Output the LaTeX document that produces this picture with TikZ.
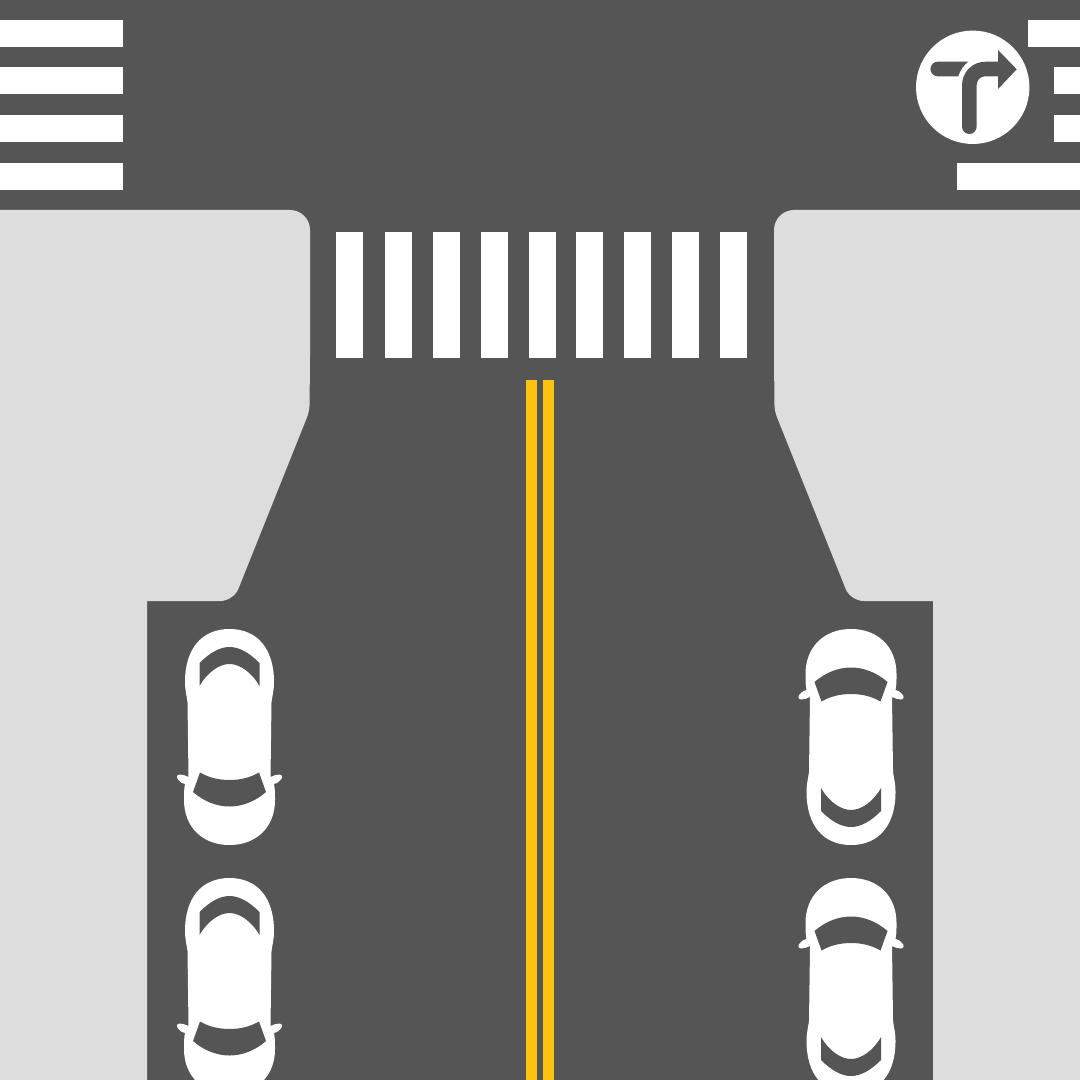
\documentclass[tikz,border=0pt]{standalone}
\usepackage{tikz}

\definecolor{asphalt}{HTML}{555555}
\definecolor{sidewalk}{HTML}{DDDDDD}
\definecolor{centerline}{HTML}{FFC20E}

\begin{document}
\begin{tikzpicture}[x=0.01cm, y=-0.01cm,
    bar/.style={fill=white},
    walk/.style={fill=sidewalk},
    yellowline/.style={fill=centerline},
    car/.pic={
        \fill[white] (0,-108) .. controls (-28,-108) and (-44.5,-88) .. (-44.5,-55)
            .. controls (-44.5,-47) and (-43,-42) .. (-42,-35) -- (-41,40)
            .. controls (-44,38.5) and (-47,37.5) .. (-50,37.5)
            .. controls (-53.5,38) and (-53,41) .. (-51,43)
            .. controls (-49,45.5) and (-47,46.5) .. (-44.5,47)
            .. controls (-45.5,52) and (-45.5,56) .. (-45.5,63)
            .. controls (-45.5,90) and (-27,108) .. (0,108)
            .. controls (27,108) and (45.5,90) .. (45.5,63)
            .. controls (45.5,56) and (45.5,52) .. (44.5,47)
            .. controls (47,46.5) and (49,45.5) .. (51,43)
            .. controls (53,41) and (53.5,38) .. (50,37.5)
            .. controls (47,37.5) and (44,38.5) .. (41,40)
            -- (42,-35) .. controls (43,-42) and (44.5,-47) .. (44.5,-55)
            .. controls (44.5,-88) and (28,-108) .. (0,-108) -- cycle;
        \fill[asphalt] (-30,-74) .. controls (-20,-84) and (-10,-90) .. (0,-90)
            .. controls (10,-90) and (20,-84) .. (30,-74) -- (30,-51)
            .. controls (22,-65) and (10,-73) .. (0,-73)
            .. controls (-10,-73) and (-22,-65) .. (-30,-51) -- cycle; % rear
        \fill[asphalt] (-29.5,35.5) .. controls (-20,41) and (-10,43) .. (0,43)
            .. controls (10,43) and (20,41) .. (29.5,35.5) -- (36.5,55)
            .. controls (25,65) and (12,69.5) .. (0,69.5)
            .. controls (-12,69.5) and (-25,65) .. (-36.5,55) -- cycle; % front
    }]
    \clip (0, 0) rectangle (1080, 1080);
    \fill[asphalt] (0, 0) rectangle (1080, 1080);

    \coordinate (L1) at (0, 210);
    \coordinate (L2) at (310, 210);
    \coordinate (L3) at (309.5, 411);
    \coordinate (L4) at (233.5, 601);
    \coordinate (L5) at (147, 601);
    \coordinate (L6) at (147, 1080);
    \coordinate (L7) at (0, 1080);
    \coordinate (R1) at (1080, 210);
    \coordinate (R2) at (774, 210);
    \coordinate (R3) at (774.5, 411);
    \coordinate (R4) at (850.5, 601);
    \coordinate (R5) at (933, 601);
    \coordinate (R6) at (933, 1080);
    \coordinate (R7) at (1080, 1080);

    \fill[walk] (L1) [rounded corners=0.2cm] -- (L2) [sharp corners] -- (310, 356) [rounded corners=0.06cm] -- (L3) [rounded corners=0.13cm] -- (L4) [sharp corners] -- (L5) -- (L6) -- (L7) -- cycle; % left
    \fill[walk] (R1) [rounded corners=0.2cm] -- (R2) [sharp corners] -- (774, 356) [rounded corners=0.06cm] -- (R3) [rounded corners=0.13cm] -- (R4) [sharp corners] -- (R5) -- (R6) -- (R7) -- cycle; % right

    \fill[bar] (0, 20) rectangle (123, 47); % left crossing
    \fill[bar] (0, 67) rectangle (123, 94);
    \fill[bar] (0, 115) rectangle (123, 142);
    \fill[bar] (0, 163) rectangle (123, 190);

    \fill[bar] (1028, 20) rectangle (1080, 47); % right crossing
    \fill[bar] (1054, 67) rectangle (1080, 94);
    \fill[bar] (1054, 115) rectangle (1080, 142);
    \fill[bar] (957, 163) rectangle (1080, 190);

    \fill[bar] (336, 232) rectangle (363, 358); % middle crossing
    \fill[bar] (385, 232) rectangle (412, 358);
    \fill[bar] (433, 232) rectangle (460, 358);
    \fill[bar] (481, 232) rectangle (508, 358);
    \fill[bar] (529, 232) rectangle (556, 358);
    \fill[bar] (576, 232) rectangle (603, 358);
    \fill[bar] (624, 232) rectangle (651, 358);
    \fill[bar] (672, 232) rectangle (699, 358);
    \fill[bar] (720, 232) rectangle (747, 358);

    \fill[yellowline] (526, 380) rectangle (537, 1080);
    \fill[yellowline] (543, 380) rectangle (554, 1080);

    \fill[white] (972.7, 87.3) circle (56.7); % sign
    \fill[asphalt] (937.7, 61.7) -- (968.3, 61.7) .. controls (964, 65) and (960, 70) .. (958.3, 76.3) -- (937.7, 76.3) arc (90:270:7.3) -- cycle; % straight on
    \draw[asphalt, line width=0.146cm, line cap=round] (969.3, 126.7) -- (969.3, 86) .. controls (969.3, 76) and (976, 69) .. (986, 69) -- (999, 69); % turn
    \fill[asphalt] (998, 50) -- (1016.7, 69.3) -- (998, 89) -- cycle;

    \pic at (229.5, 737) {car};
    \pic at (229.5, 986) {car};
    \pic[rotate=180] at (851, 737) {car};
    \pic[rotate=180] at (851, 986) {car};
\end{tikzpicture}
\end{document}
